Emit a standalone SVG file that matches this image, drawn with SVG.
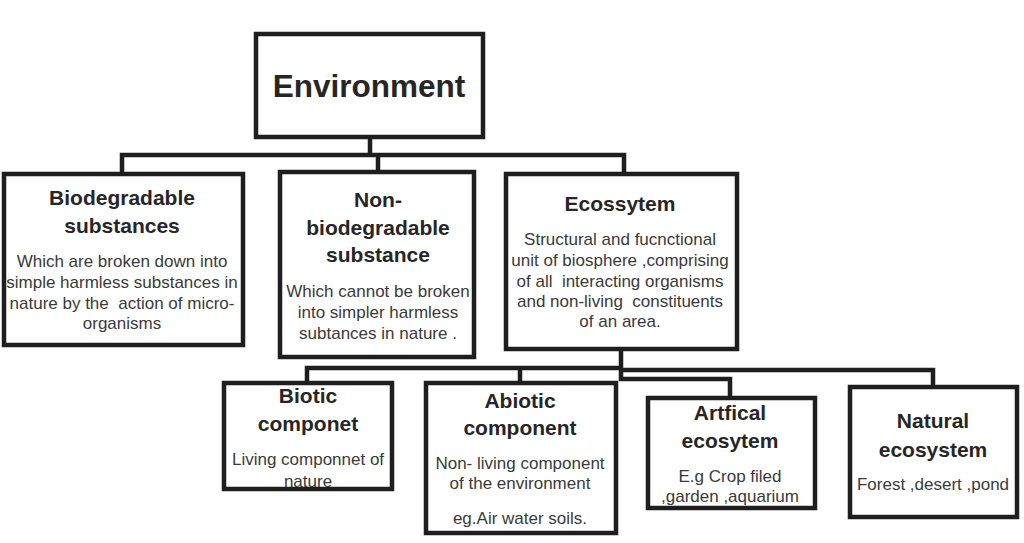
<svg xmlns="http://www.w3.org/2000/svg" width="1024" height="543" viewBox="0 0 1024 543">
<style>
.box{fill:#ffffff;stroke:#1e1e1e;stroke-width:4.5}
.conn{fill:none;stroke:#1e1e1e;stroke-width:4.5}
.t{font-family:"Liberation Sans",Arial,sans-serif;font-weight:bold;font-size:21px;fill:#262626;text-anchor:middle}
.b{font-family:"Liberation Sans",Arial,sans-serif;font-size:17px;fill:#3a3a3a;text-anchor:middle;white-space:pre}
.big{font-family:"Liberation Sans",Arial,sans-serif;font-weight:bold;font-size:31.5px;fill:#262626;text-anchor:middle}
</style>
<rect width="1024" height="543" fill="#ffffff"/>
<g id="connectors">
<path class="conn" d="M370 137 V155"/>
<path class="conn" d="M122 174 V155 H624 V174"/>
<path class="conn" d="M378 155 V172"/>
<path class="conn" d="M621 349 V379 H730 V398"/>
<path class="conn" d="M307 383 V368 H621"/>
<path class="conn" d="M520 368 V383"/>
<path class="conn" d="M621 370 H933 V387"/>
</g>
<g id="environment">
<rect class="box" x="256" y="34" width="227" height="103"/>
<text class="big" x="369" y="97">Environment</text>
</g>
<g id="biodegradable">
<rect class="box" x="4" y="174" width="239" height="171"/>
<text class="t" x="122" y="205">Biodegradable</text>
<text class="t" x="122" y="233">substances</text>
<text class="b" x="122" y="267">Which are broken down into</text>
<text class="b" x="122" y="288">simple harmless substances in</text>
<text class="b" x="122" y="309" xml:space="preserve">nature by the  action of micro-</text>
<text class="b" x="122" y="329">organisms</text>
</g>
<g id="nonbiodegradable">
<rect class="box" x="280" y="172" width="194" height="185"/>
<text class="t" x="378" y="207">Non-</text>
<text class="t" x="378" y="235">biodegradable</text>
<text class="t" x="378" y="262">substance</text>
<text class="b" x="378" y="297">Which cannot be broken</text>
<text class="b" x="378" y="318">into simpler harmless</text>
<text class="b" x="378" y="339">subtances in nature .</text>
</g>
<g id="ecosystem">
<rect class="box" x="506" y="174" width="231" height="175"/>
<text class="t" x="620" y="211">Ecossytem</text>
<text class="b" x="620" y="245">Structural and fucnctional</text>
<text class="b" x="620" y="266">unit of biosphere ,comprising</text>
<text class="b" x="620" y="287" xml:space="preserve">of all  interacting organisms</text>
<text class="b" x="620" y="307" xml:space="preserve">and non-living  constituents</text>
<text class="b" x="620" y="327">of an area.</text>
</g>
<g id="biotic">
<rect class="box" x="224" y="383" width="168" height="106"/>
<text class="t" x="308" y="403">Biotic</text>
<text class="t" x="308" y="431">componet</text>
<text class="b" x="308" y="465">Living componnet of</text>
<text class="b" x="308" y="487">nature</text>
</g>
<g id="abiotic">
<rect class="box" x="426" y="383" width="190" height="150"/>
<text class="t" x="520" y="408">Abiotic</text>
<text class="t" x="520" y="435">component</text>
<text class="b" x="520" y="469">Non- living component</text>
<text class="b" x="520" y="489">of the environment</text>
<text class="b" x="520" y="524">eg.Air water soils.</text>
</g>
<g id="artificial">
<rect class="box" x="648" y="398" width="167" height="110"/>
<text class="t" x="730" y="420">Artfical</text>
<text class="t" x="730" y="448">ecosytem</text>
<text class="b" x="730" y="482">E.g Crop filed</text>
<text class="b" x="730" y="502">,garden ,aquarium</text>
</g>
<g id="natural">
<rect class="box" x="850" y="387" width="167" height="130"/>
<text class="t" x="933" y="428">Natural</text>
<text class="t" x="933" y="457">ecosystem</text>
<text class="b" x="933" y="490">Forest ,desert ,pond</text>
</g>
</svg>
